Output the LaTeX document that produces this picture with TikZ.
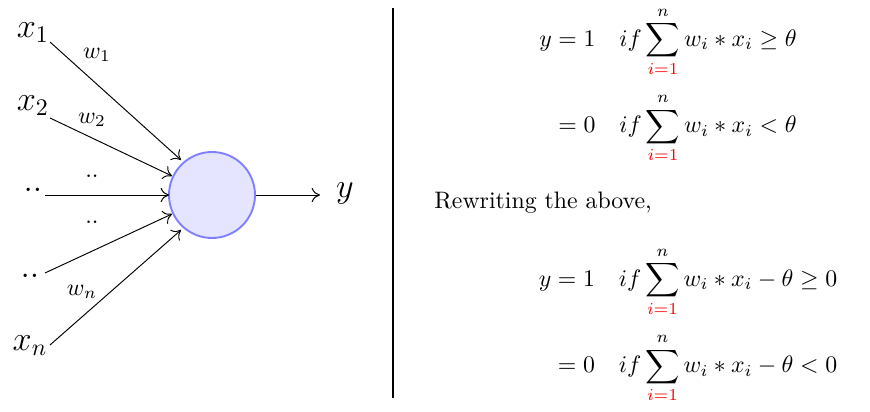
\documentclass[tikz,border=0pt]{standalone}
\usepackage{amsmath}
\usetikzlibrary{arrows.meta}
\newcommand{\mysum}{\mathop{\sum}\limits^{n}_{\textcolor{red}{i=1}}}
\begin{document}
\begin{tikzpicture}[x=0.42pt,y=-0.42pt,
  neuron/.style={circle,draw=blue!50,fill=blue!10,line width=0.8pt,minimum size=86*0.42pt,inner sep=0pt},
  inp/.style={font=\Large,inner sep=1pt},
  wlab/.style={font=\normalsize,inner sep=0pt},
  conn/.style={-{To[length=3.5pt,width=6pt]},line width=0.4pt}]
\useasboundingbox (0,0) rectangle (870,412);
\node[neuron] (n) at (212,195) {};
\node[inp] (x1) at (33,33) {$x_1$};
\node[inp] (x2) at (33,106) {$x_2$};
\node[inp] (d1) at (33,190) {$..$};
\node[inp] (d2) at (30,276) {$..$};
\node[inp] (xn) at (30,346) {$x_n$};
\coordinate (s1) at (50,42);
\coordinate (s2) at (50,118);
\coordinate (s3) at (45,195);
\coordinate (s4) at (45,273);
\coordinate (s5) at (50,345);
\coordinate (e1) at (181,160);
\coordinate (e2) at (172,176);
\coordinate (e3) at (169,195);
\coordinate (e4) at (172,214);
\coordinate (e5) at (181,230);
\draw[conn] (s1) -- (e1);
\draw[conn] (s2) -- (e2);
\draw[conn] (s3) -- (e3);
\draw[conn] (s4) -- (e4);
\draw[conn] (s5) -- (e5);
\node[wlab] (w1) at (97,55) {$w_1$};
\node[wlab] (w2) at (92,120) {$w_2$};
\node[wlab] (l3) at (92,176) {$..$};
\node[wlab] (l4) at (92,222) {$..$};
\node[wlab] (wn) at (82,292) {$w_n$};
\coordinate (oe) at (320,195);
\draw[conn] (n.east) -- (oe);
\node[inp] (y) at (345,193) {$y$};
\coordinate (v1) at (393,8);
\coordinate (v2) at (393,398);
\draw[line width=1.2pt] (v1) -- (v2);
\node[anchor=center] (eq1) at (668,85) {$\begin{aligned}
 y &= 1 \quad if \mysum w_i * x_i \ge \theta\\[3pt]
   &= 0 \quad if \mysum w_i * x_i < \theta
\end{aligned}$};
\node[anchor=west] (rw) at (426,203) {Rewriting the above,};
\node[anchor=center] (eq2) at (688,325) {$\begin{aligned}
 y &= 1 \quad if \mysum w_i * x_i - \theta \ge 0\\[3pt]
   &= 0 \quad if \mysum w_i * x_i - \theta < 0
\end{aligned}$};
\end{tikzpicture}
\end{document}
